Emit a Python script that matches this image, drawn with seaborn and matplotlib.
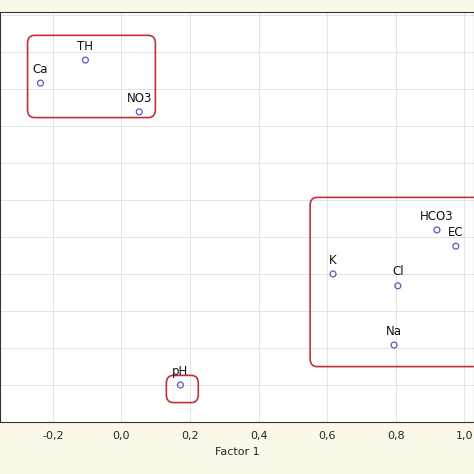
import matplotlib
matplotlib.use("Agg")
import matplotlib.pyplot as plt
import seaborn as sns
import pandas as pd
from matplotlib.patches import FancyBboxPatch

labels = ["TH", "Ca", "NO3", "pH", "K", "Cl", "Na", "HCO3", "EC"]
factor1 = [-0.105, -0.236, 0.052, 0.172, 0.617, 0.806, 0.795, 0.920, 0.975]
factor2 = [0.778, 0.716, 0.638, -0.100, 0.200, 0.168, 0.008, 0.319, 0.275]
xticks = [-0.2, 0.0, 0.2, 0.4, 0.6, 0.8, 1.0]

df = pd.DataFrame({"f1": factor1, "f2": factor2, "lab": labels})

sns.set_style("white")
fig = plt.figure(figsize=(4.74, 4.74), dpi=100, facecolor="#fcf8ea")
ax = fig.add_axes([0.0, 52/474, 1.0, 410/474])
ax.set_facecolor("white")
sns.scatterplot(data=df, x="f1", y="f2", ax=ax, s=18, facecolor="none",
                edgecolor="#5a5ab4", linewidth=0.9, zorder=3)
for x, y, t in zip(factor1, factor2, labels):
    ax.text(x, y + 0.02, t, ha="center", va="bottom", fontsize=8.5, color="#111111")

ax.set_xlim(-0.354, 1.028)
ax.set_ylim(-0.2, 0.908)
ax.set_xticks(xticks)
ax.set_xticklabels([f"{v:.1f}".replace(".", ",") for v in xticks], fontsize=8)
ax.set_yticks([-0.2 + 0.1 * i for i in range(12)])
ax.set_yticklabels([])
ax.tick_params(axis="y", length=0)
ax.tick_params(axis="x", length=3, color="#333333")
ax.grid(True, color="#e4e4e4", linewidth=0.7)
ax.set_axisbelow(True)
ax.set_xlabel("Factor 1", fontsize=8)
ax.set_ylabel("")
for s in ax.spines.values():
    s.set_color("#333333")

boxes = [(-0.274, 0.670, 0.373, 0.219 - 0.0, 0.03),
         (0.550, 0.355 - 0.0, 0.55, -0.0, 0.04),
         (0.131, 0.270 - 0.0, 0.093, 0.0, 0.01)]
def px2x(p): return (p - 121) / 343.5
def px2y(p): return (422 - p) / 370 - 0.2
rects = [(27, 36, 155, 117), (310, 198, 490, 366), (166, 376, 198, 402)]
for x0, y0, x1, y1 in rects:
    X0, X1 = px2x(x0), px2x(x1)
    Ya, Yb = px2y(y1), px2y(y0)
    pad = 0.02
    p = FancyBboxPatch((X0 + pad, Ya + pad), X1 - X0 - 2 * pad, Yb - Ya - 2 * pad,
                       boxstyle=f"round,pad={pad}", fill=False,
                       edgecolor="#c0303a", linewidth=1.2, zorder=2,
                       mutation_aspect=1.08)
    ax.add_patch(p)

fig.savefig("out.png", dpi=100, facecolor=fig.get_facecolor())
